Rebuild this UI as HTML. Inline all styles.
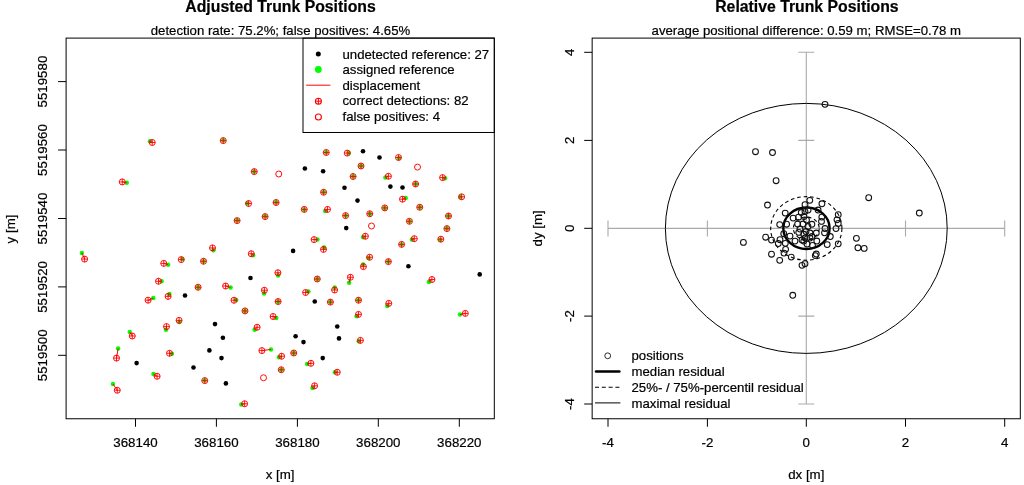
<!DOCTYPE html><html><head><meta charset="utf-8"><title>Trunk Positions</title><style>
html,body{margin:0;padding:0;background:#fff;}body{width:1024px;height:485px;overflow:hidden;}
svg{display:block;}text{font-family:'Liberation Sans', Arial, Helvetica, sans-serif;fill:#000;stroke:#000;stroke-width:0.2px;}
.t{font-size:16px;font-weight:bold;text-anchor:middle;}
.s{font-size:13.2px;text-anchor:middle;}
.a{font-size:13.3px;text-anchor:middle;}
.l{font-size:13.2px;}
</style></head><body>
<svg width="1024" height="485" viewBox="0 0 1024 485">
<rect width="1024" height="485" fill="#fff"/>
<text class="t" transform="translate(280.5 11.7) scale(0.988 1.035)">Adjusted Trunk Positions</text>
<text class="s" x="280.5" y="34.6">detection rate: 75.2%; false positives: 4.65%</text>
<path d="M135.5 418.75V426.75M216.4 418.75V426.75M297.4 418.75V426.75M378.3 418.75V426.75M459.3 418.75V426.75M66.1 81.6H58.1M66.1 150H58.1M66.1 218.5H58.1M66.1 286.9H58.1M66.1 355.3H58.1" stroke="#000" stroke-width="1" fill="none"/>
<rect x="66.1" y="38.1" width="428.2" height="380.65" stroke="#000" stroke-width="1" fill="none"/>
<text class="a" x="135.5" y="447.3">368140</text>
<text class="a" x="216.4" y="447.3">368160</text>
<text class="a" x="297.4" y="447.3">368180</text>
<text class="a" x="378.3" y="447.3">368200</text>
<text class="a" x="459.3" y="447.3">368220</text>
<text class="a" transform="translate(47.2 81.6) rotate(-90)">5519580</text>
<text class="a" transform="translate(47.2 150) rotate(-90)">5519560</text>
<text class="a" transform="translate(47.2 218.5) rotate(-90)">5519540</text>
<text class="a" transform="translate(47.2 286.9) rotate(-90)">5519520</text>
<text class="a" transform="translate(47.2 355.3) rotate(-90)">5519500</text>
<text class="a" x="280.1" y="478.5">x [m]</text>
<text class="a" transform="translate(15.4 229) rotate(-90)">y [m]</text>
<g fill="#000"><circle cx="304.9" cy="168.5" r="2.3"/><circle cx="323.1" cy="171.25" r="2.3"/><circle cx="363" cy="151.25" r="2.3"/><circle cx="379.5" cy="157.5" r="2.3"/><circle cx="344.5" cy="187.75" r="2.3"/><circle cx="390.4" cy="186.6" r="2.3"/><circle cx="402.5" cy="187.5" r="2.3"/><circle cx="357.5" cy="200.6" r="2.3"/><circle cx="346.25" cy="228.1" r="2.3"/><circle cx="250.5" cy="278" r="2.3"/><circle cx="293.1" cy="250.9" r="2.3"/><circle cx="408.4" cy="266.2" r="2.3"/><circle cx="479.7" cy="274.4" r="2.3"/><circle cx="185" cy="295.5" r="2.3"/><circle cx="314.75" cy="301.5" r="2.3"/><circle cx="215" cy="324.1" r="2.3"/><circle cx="222.9" cy="337.75" r="2.3"/><circle cx="295.6" cy="336.25" r="2.3"/><circle cx="303.5" cy="342.1" r="2.3"/><circle cx="209.4" cy="350.4" r="2.3"/><circle cx="337.25" cy="326.5" r="2.3"/><circle cx="339" cy="338.4" r="2.3"/><circle cx="136.6" cy="363.1" r="2.3"/><circle cx="193.5" cy="367.5" r="2.3"/><circle cx="221.5" cy="358.1" r="2.3"/><circle cx="225.9" cy="383.4" r="2.3"/><circle cx="322.75" cy="358.1" r="2.3"/></g><g fill="#00ff00"><circle cx="150" cy="141.25" r="2.25"/><circle cx="126.8" cy="182.8" r="2.25"/><circle cx="223.25" cy="140.6" r="2.25"/><circle cx="254.25" cy="171.6" r="2.25"/><circle cx="326.25" cy="152.5" r="2.25"/><circle cx="348.75" cy="153.1" r="2.25"/><circle cx="399" cy="158.1" r="2.25"/><circle cx="361" cy="166" r="2.25"/><circle cx="353.1" cy="176.5" r="2.25"/><circle cx="385.4" cy="177.5" r="2.25"/><circle cx="415.6" cy="184" r="2.25"/><circle cx="247.4" cy="203.25" r="2.25"/><circle cx="276.1" cy="202.5" r="2.25"/><circle cx="304.25" cy="209.4" r="2.25"/><circle cx="265.1" cy="216.6" r="2.25"/><circle cx="237.1" cy="220.6" r="2.25"/><circle cx="323.6" cy="192.25" r="2.25"/><circle cx="325.25" cy="210.9" r="2.25"/><circle cx="317.45" cy="239.6" r="2.25"/><circle cx="405.7" cy="198" r="2.25"/><circle cx="384.75" cy="207.9" r="2.25"/><circle cx="419.75" cy="207.25" r="2.25"/><circle cx="345.6" cy="215.6" r="2.25"/><circle cx="369.75" cy="213.75" r="2.25"/><circle cx="409.4" cy="221.3" r="2.25"/><circle cx="363.1" cy="237.25" r="2.25"/><circle cx="411.9" cy="239.4" r="2.25"/><circle cx="401.6" cy="244.4" r="2.25"/><circle cx="445" cy="178.3" r="2.25"/><circle cx="460.4" cy="197" r="2.25"/><circle cx="448.5" cy="216" r="2.25"/><circle cx="446.9" cy="228.6" r="2.25"/><circle cx="440.3" cy="239.7" r="2.25"/><circle cx="81.9" cy="252.9" r="2.25"/><circle cx="168.1" cy="264.75" r="2.25"/><circle cx="182.25" cy="259.1" r="2.25"/><circle cx="161.6" cy="281.25" r="2.25"/><circle cx="169.4" cy="294" r="2.25"/><circle cx="153.3" cy="298.1" r="2.25"/><circle cx="213.4" cy="250.25" r="2.25"/><circle cx="253.1" cy="255.25" r="2.25"/><circle cx="203.5" cy="261.25" r="2.25"/><circle cx="278.1" cy="275.4" r="2.25"/><circle cx="198.1" cy="287.25" r="2.25"/><circle cx="230.6" cy="287.5" r="2.25"/><circle cx="264.1" cy="293.4" r="2.25"/><circle cx="308.4" cy="291.6" r="2.25"/><circle cx="317.25" cy="279" r="2.25"/><circle cx="324.1" cy="247.5" r="2.25"/><circle cx="368.5" cy="258.1" r="2.25"/><circle cx="388.4" cy="261.6" r="2.25"/><circle cx="363.1" cy="264.4" r="2.25"/><circle cx="349.1" cy="282.75" r="2.25"/><circle cx="334.75" cy="287.5" r="2.25"/><circle cx="428.9" cy="281.9" r="2.25"/><circle cx="179.4" cy="321.9" r="2.25"/><circle cx="166" cy="329.75" r="2.25"/><circle cx="129.75" cy="332.1" r="2.25"/><circle cx="118.1" cy="348.5" r="2.25"/><circle cx="171.9" cy="353.75" r="2.25"/><circle cx="236.25" cy="300" r="2.25"/><circle cx="278.1" cy="301.5" r="2.25"/><circle cx="245" cy="310.9" r="2.25"/><circle cx="276.25" cy="317.9" r="2.25"/><circle cx="254.6" cy="329.75" r="2.25"/><circle cx="271" cy="349.4" r="2.25"/><circle cx="279" cy="357.25" r="2.25"/><circle cx="293.75" cy="353" r="2.25"/><circle cx="330.4" cy="302.1" r="2.25"/><circle cx="358.5" cy="300.25" r="2.25"/><circle cx="387.25" cy="306" r="2.25"/><circle cx="356.6" cy="316.25" r="2.25"/><circle cx="358.75" cy="341.25" r="2.25"/><circle cx="460" cy="314.6" r="2.25"/><circle cx="153.5" cy="374.1" r="2.25"/><circle cx="112.9" cy="384" r="2.25"/><circle cx="307.1" cy="364.1" r="2.25"/><circle cx="281.25" cy="369.75" r="2.25"/><circle cx="204.75" cy="380.6" r="2.25"/><circle cx="312.5" cy="387.9" r="2.25"/><circle cx="241.25" cy="404.6" r="2.25"/><circle cx="335" cy="372.25" r="2.25"/></g><path d="M150 141.25L152.25 142.5M126.8 182.8L122.25 181.9M348.75 153.1L347.25 153.1M399 158.1L398.5 157.5M385.4 177.5L388.4 176.25M247.4 203.25L248.6 203.5M325.25 210.9L327.5 209.4M317.45 239.6L314.1 239.6M405.7 198L402.5 199.2M363.1 237.25L365.4 236.25M411.9 239.4L414.3 238.7M445 178.3L442.6 177.6M460.4 197L461.6 196.8M440.3 239.7L440.8 239.2M81.9 252.9L84.6 259.1M168.1 264.75L163.75 263.4M182.25 259.1L181.25 259.6M161.6 281.25L158.5 281.25M169.4 294L168.1 296.4M153.3 298.1L148.1 300.2M213.4 250.25L212.5 247.9M253.1 255.25L251.25 253.75M278.1 275.4L277.9 272.75M230.6 287.5L225.6 286M264.1 293.4L264.4 290.25M308.4 291.6L305.6 292.5M324.1 247.5L323.5 249.4M368.5 258.1L369.6 257.25M363.1 264.4L363.4 266.6M349.1 282.75L350.4 277.25M334.75 287.5L334.6 290M428.9 281.9L431.9 279.5M179.4 321.9L179.1 320.4M166 329.75L166.5 326.6M129.75 332.1L132.25 336M118.1 348.5L116.5 358.1M171.9 353.75L169.5 353.3M236.25 300L234 300.25M276.25 317.9L273.1 316.5M254.6 329.75L257.1 327.25M271 349.4L261.9 350.6M279 357.25L281.6 356.25M387.25 306L388.75 303.4M356.6 316.25L358.5 314.4M358.75 341.25L360.4 340.4M460 314.6L465.3 313.4M153.5 374.1L157.1 376.25M112.9 384L117.25 390.25M307.1 364.1L310.9 363.3M312.5 387.9L314.6 385.8M241.25 404.6L244.6 403.75M335 372.25L337.25 372.25" stroke="#ff0000" stroke-width="1" fill="none"/><path d="M149.25 142.5H155.25M152.25 139.5V145.5M119.25 181.9H125.25M122.25 178.9V184.9M220.25 140.6H226.25M223.25 137.6V143.6M251.25 171.6H257.25M254.25 168.6V174.6M323.25 152.5H329.25M326.25 149.5V155.5M344.25 153.1H350.25M347.25 150.1V156.1M395.5 157.5H401.5M398.5 154.5V160.5M358 166H364M361 163V169M350.1 176.5H356.1M353.1 173.5V179.5M385.4 176.25H391.4M388.4 173.25V179.25M412.6 184H418.6M415.6 181V187M245.6 203.5H251.6M248.6 200.5V206.5M273.1 202.5H279.1M276.1 199.5V205.5M301.25 209.4H307.25M304.25 206.4V212.4M262.1 216.6H268.1M265.1 213.6V219.6M234.1 220.6H240.1M237.1 217.6V223.6M320.6 192.25H326.6M323.6 189.25V195.25M324.5 209.4H330.5M327.5 206.4V212.4M311.1 239.6H317.1M314.1 236.6V242.6M399.5 199.2H405.5M402.5 196.2V202.2M381.75 207.9H387.75M384.75 204.9V210.9M416.75 207.25H422.75M419.75 204.25V210.25M342.6 215.6H348.6M345.6 212.6V218.6M366.75 213.75H372.75M369.75 210.75V216.75M406.4 221.3H412.4M409.4 218.3V224.3M362.4 236.25H368.4M365.4 233.25V239.25M411.3 238.7H417.3M414.3 235.7V241.7M398.6 244.4H404.6M401.6 241.4V247.4M439.6 177.6H445.6M442.6 174.6V180.6M458.6 196.8H464.6M461.6 193.8V199.8M445.5 216H451.5M448.5 213V219M443.9 228.6H449.9M446.9 225.6V231.6M437.8 239.2H443.8M440.8 236.2V242.2M81.6 259.1H87.6M84.6 256.1V262.1M160.75 263.4H166.75M163.75 260.4V266.4M178.25 259.6H184.25M181.25 256.6V262.6M155.5 281.25H161.5M158.5 278.25V284.25M165.1 296.4H171.1M168.1 293.4V299.4M145.1 300.2H151.1M148.1 297.2V303.2M209.5 247.9H215.5M212.5 244.9V250.9M248.25 253.75H254.25M251.25 250.75V256.75M200.5 261.25H206.5M203.5 258.25V264.25M274.9 272.75H280.9M277.9 269.75V275.75M195.1 287.25H201.1M198.1 284.25V290.25M222.6 286H228.6M225.6 283V289M261.4 290.25H267.4M264.4 287.25V293.25M302.6 292.5H308.6M305.6 289.5V295.5M314.25 279H320.25M317.25 276V282M320.5 249.4H326.5M323.5 246.4V252.4M366.6 257.25H372.6M369.6 254.25V260.25M385.4 261.6H391.4M388.4 258.6V264.6M360.4 266.6H366.4M363.4 263.6V269.6M347.4 277.25H353.4M350.4 274.25V280.25M331.6 290H337.6M334.6 287V293M428.9 279.5H434.9M431.9 276.5V282.5M176.1 320.4H182.1M179.1 317.4V323.4M163.5 326.6H169.5M166.5 323.6V329.6M129.25 336H135.25M132.25 333V339M113.5 358.1H119.5M116.5 355.1V361.1M166.5 353.3H172.5M169.5 350.3V356.3M231 300.25H237M234 297.25V303.25M275.1 301.5H281.1M278.1 298.5V304.5M242 310.9H248M245 307.9V313.9M270.1 316.5H276.1M273.1 313.5V319.5M254.1 327.25H260.1M257.1 324.25V330.25M258.9 350.6H264.9M261.9 347.6V353.6M278.6 356.25H284.6M281.6 353.25V359.25M290.75 353H296.75M293.75 350V356M327.4 302.1H333.4M330.4 299.1V305.1M355.5 300.25H361.5M358.5 297.25V303.25M385.75 303.4H391.75M388.75 300.4V306.4M355.5 314.4H361.5M358.5 311.4V317.4M357.4 340.4H363.4M360.4 337.4V343.4M462.3 313.4H468.3M465.3 310.4V316.4M154.1 376.25H160.1M157.1 373.25V379.25M114.25 390.25H120.25M117.25 387.25V393.25M307.9 363.3H313.9M310.9 360.3V366.3M278.25 369.75H284.25M281.25 366.75V372.75M201.75 380.6H207.75M204.75 377.6V383.6M311.6 385.8H317.6M314.6 382.8V388.8M241.6 403.75H247.6M244.6 400.75V406.75M334.25 372.25H340.25M337.25 369.25V375.25" stroke="#ff0000" stroke-width="0.9" fill="none"/><g stroke="#ff0000" stroke-width="0.95" fill="none"><circle cx="152.25" cy="142.5" r="3"/><circle cx="122.25" cy="181.9" r="3"/><circle cx="223.25" cy="140.6" r="3"/><circle cx="254.25" cy="171.6" r="3"/><circle cx="326.25" cy="152.5" r="3"/><circle cx="347.25" cy="153.1" r="3"/><circle cx="398.5" cy="157.5" r="3"/><circle cx="361" cy="166" r="3"/><circle cx="353.1" cy="176.5" r="3"/><circle cx="388.4" cy="176.25" r="3"/><circle cx="415.6" cy="184" r="3"/><circle cx="248.6" cy="203.5" r="3"/><circle cx="276.1" cy="202.5" r="3"/><circle cx="304.25" cy="209.4" r="3"/><circle cx="265.1" cy="216.6" r="3"/><circle cx="237.1" cy="220.6" r="3"/><circle cx="323.6" cy="192.25" r="3"/><circle cx="327.5" cy="209.4" r="3"/><circle cx="314.1" cy="239.6" r="3"/><circle cx="402.5" cy="199.2" r="3"/><circle cx="384.75" cy="207.9" r="3"/><circle cx="419.75" cy="207.25" r="3"/><circle cx="345.6" cy="215.6" r="3"/><circle cx="369.75" cy="213.75" r="3"/><circle cx="409.4" cy="221.3" r="3"/><circle cx="365.4" cy="236.25" r="3"/><circle cx="414.3" cy="238.7" r="3"/><circle cx="401.6" cy="244.4" r="3"/><circle cx="442.6" cy="177.6" r="3"/><circle cx="461.6" cy="196.8" r="3"/><circle cx="448.5" cy="216" r="3"/><circle cx="446.9" cy="228.6" r="3"/><circle cx="440.8" cy="239.2" r="3"/><circle cx="84.6" cy="259.1" r="3"/><circle cx="163.75" cy="263.4" r="3"/><circle cx="181.25" cy="259.6" r="3"/><circle cx="158.5" cy="281.25" r="3"/><circle cx="168.1" cy="296.4" r="3"/><circle cx="148.1" cy="300.2" r="3"/><circle cx="212.5" cy="247.9" r="3"/><circle cx="251.25" cy="253.75" r="3"/><circle cx="203.5" cy="261.25" r="3"/><circle cx="277.9" cy="272.75" r="3"/><circle cx="198.1" cy="287.25" r="3"/><circle cx="225.6" cy="286" r="3"/><circle cx="264.4" cy="290.25" r="3"/><circle cx="305.6" cy="292.5" r="3"/><circle cx="317.25" cy="279" r="3"/><circle cx="323.5" cy="249.4" r="3"/><circle cx="369.6" cy="257.25" r="3"/><circle cx="388.4" cy="261.6" r="3"/><circle cx="363.4" cy="266.6" r="3"/><circle cx="350.4" cy="277.25" r="3"/><circle cx="334.6" cy="290" r="3"/><circle cx="431.9" cy="279.5" r="3"/><circle cx="179.1" cy="320.4" r="3"/><circle cx="166.5" cy="326.6" r="3"/><circle cx="132.25" cy="336" r="3"/><circle cx="116.5" cy="358.1" r="3"/><circle cx="169.5" cy="353.3" r="3"/><circle cx="234" cy="300.25" r="3"/><circle cx="278.1" cy="301.5" r="3"/><circle cx="245" cy="310.9" r="3"/><circle cx="273.1" cy="316.5" r="3"/><circle cx="257.1" cy="327.25" r="3"/><circle cx="261.9" cy="350.6" r="3"/><circle cx="281.6" cy="356.25" r="3"/><circle cx="293.75" cy="353" r="3"/><circle cx="330.4" cy="302.1" r="3"/><circle cx="358.5" cy="300.25" r="3"/><circle cx="388.75" cy="303.4" r="3"/><circle cx="358.5" cy="314.4" r="3"/><circle cx="360.4" cy="340.4" r="3"/><circle cx="465.3" cy="313.4" r="3"/><circle cx="157.1" cy="376.25" r="3"/><circle cx="117.25" cy="390.25" r="3"/><circle cx="310.9" cy="363.3" r="3"/><circle cx="281.25" cy="369.75" r="3"/><circle cx="204.75" cy="380.6" r="3"/><circle cx="314.6" cy="385.8" r="3"/><circle cx="244.6" cy="403.75" r="3"/><circle cx="337.25" cy="372.25" r="3"/><circle cx="278.75" cy="174" r="3"/><circle cx="417.5" cy="167.1" r="3"/><circle cx="371.5" cy="226" r="3"/><circle cx="263.5" cy="377.75" r="3"/></g>
<rect x="303" y="38.1" width="191.3" height="94.4" stroke="#000" stroke-width="1" fill="none"/>
<circle cx="318.3" cy="53.9" r="2.5" fill="#000"/>
<circle cx="318.3" cy="69.5" r="3.4" fill="#00ff00"/>
<path d="M306.2 85.2H330.4" stroke="#ff0000" stroke-width="1"/>
<circle cx="318.4" cy="101.2" r="3" stroke="#ff0000" stroke-width="1.1" fill="none"/>
<path d="M315.4 101.2H321.4M318.4 98.2V104.2" stroke="#ff0000" stroke-width="1"/>
<circle cx="318.4" cy="117" r="3" stroke="#ff0000" stroke-width="1.1" fill="none"/>
<text class="l" x="342.5" y="58.6">undetected reference: 27</text>
<text class="l" x="342.5" y="74.2">assigned reference</text>
<text class="l" x="342.5" y="89.8">displacement</text>
<text class="l" x="342.5" y="105.4">correct detections: 82</text>
<text class="l" x="342.5" y="121">false positives: 4</text>
<text class="t" transform="translate(806.9 11.7) scale(0.988 1.035)">Relative Trunk Positions</text>
<text class="s" x="806.3" y="34.6">average positional difference: 0.59 m; RMSE=0.78 m</text>
<path d="M608 418.75V426.75M707.4 418.75V426.75M806.3 418.75V426.75M905.5 418.75V426.75M1004.7 418.75V426.75M592.15 52.3H584.15M592.15 140.4H584.15M592.15 228.3H584.15M592.15 316.1H584.15M592.15 404H584.15" stroke="#000" stroke-width="1" fill="none"/>
<rect x="592.15" y="38.1" width="428.15" height="380.65" stroke="#000" stroke-width="1" fill="none"/>
<text class="a" x="608" y="447.3">-4</text>
<text class="a" x="707.4" y="447.3">-2</text>
<text class="a" x="806.3" y="447.3">0</text>
<text class="a" x="905.5" y="447.3">2</text>
<text class="a" x="1004.7" y="447.3">4</text>
<text class="a" transform="translate(573.9 52.3) rotate(-90)">4</text>
<text class="a" transform="translate(573.9 140.4) rotate(-90)">2</text>
<text class="a" transform="translate(573.9 228.3) rotate(-90)">0</text>
<text class="a" transform="translate(573.9 316.1) rotate(-90)">-2</text>
<text class="a" transform="translate(573.9 404) rotate(-90)">-4</text>
<text class="a" x="806.3" y="478.5">dx [m]</text>
<text class="a" transform="translate(541.5 228.4) rotate(-90)">dy [m]</text>
<path d="M608 228.4H1004.7M806.3 52.3V404M608 220.4V236.4M707.4 220.4V236.4M905.5 220.4V236.4M1004.7 220.4V236.4M798.3 52.3H814.3M798.3 140.4H814.3M798.3 316.1H814.3M798.3 404H814.3" stroke="#aaaaaa" stroke-width="1.1" fill="none"/>
<ellipse cx="806.3" cy="228.4" rx="140.9" ry="125" fill="none" stroke="#000" stroke-width="1"/>
<ellipse cx="806.3" cy="228.4" rx="35.6" ry="31.8" fill="none" stroke="#000" stroke-width="1.1" stroke-dasharray="3.6 2.9"/>
<ellipse cx="806.3" cy="228.4" rx="12.9" ry="11.4" fill="none" stroke="#000" stroke-width="1.1" stroke-dasharray="3.6 2.9"/>
<ellipse cx="806.45" cy="228.3" rx="23.15" ry="20.75" fill="none" stroke="#000" stroke-width="2.4"/>
<g stroke="#111" stroke-width="1.05" fill="none"><circle cx="825" cy="104.3" r="2.9"/><circle cx="755.5" cy="151.7" r="2.9"/><circle cx="772.5" cy="152.5" r="2.9"/><circle cx="776.1" cy="180.7" r="2.9"/><circle cx="767.5" cy="205" r="2.9"/><circle cx="868.7" cy="197.7" r="2.9"/><circle cx="919.3" cy="213" r="2.9"/><circle cx="743.4" cy="242.4" r="2.9"/><circle cx="792.75" cy="295.25" r="2.9"/><circle cx="856.4" cy="238.3" r="2.9"/><circle cx="857.9" cy="247.75" r="2.9"/><circle cx="864.2" cy="248.4" r="2.9"/><circle cx="809.8" cy="200.3" r="2.9"/><circle cx="821.9" cy="203.75" r="2.9"/><circle cx="805" cy="204.7" r="2.9"/><circle cx="818.1" cy="210" r="2.9"/><circle cx="785.2" cy="213.1" r="2.9"/><circle cx="793.1" cy="218.1" r="2.9"/><circle cx="798.6" cy="217.2" r="2.9"/><circle cx="801.25" cy="212.5" r="2.9"/><circle cx="805" cy="211.6" r="2.9"/><circle cx="808.1" cy="210" r="2.9"/><circle cx="821.8" cy="217.1" r="2.9"/><circle cx="821.5" cy="221.4" r="2.9"/><circle cx="779.7" cy="224.6" r="2.9"/><circle cx="786.6" cy="224.2" r="2.9"/><circle cx="797.6" cy="224.1" r="2.9"/><circle cx="838.25" cy="214.7" r="2.9"/><circle cx="837" cy="219.8" r="2.9"/><circle cx="838.25" cy="223.4" r="2.9"/><circle cx="811.9" cy="224.25" r="2.9"/><circle cx="825" cy="228.5" r="2.9"/><circle cx="824.5" cy="232.8" r="2.9"/><circle cx="830.3" cy="236.5" r="2.9"/><circle cx="836" cy="228.6" r="2.9"/><circle cx="798.75" cy="232.4" r="2.9"/><circle cx="803.75" cy="234.25" r="2.9"/><circle cx="810" cy="233" r="2.9"/><circle cx="816.3" cy="233" r="2.9"/><circle cx="805" cy="238" r="2.9"/><circle cx="810" cy="238" r="2.9"/><circle cx="790" cy="236.1" r="2.9"/><circle cx="783.75" cy="233.7" r="2.9"/><circle cx="795" cy="241.1" r="2.9"/><circle cx="780" cy="239.7" r="2.9"/><circle cx="778.3" cy="243.5" r="2.9"/><circle cx="785.3" cy="243.3" r="2.9"/><circle cx="771.5" cy="240.1" r="2.9"/><circle cx="816.8" cy="241" r="2.9"/><circle cx="827.2" cy="244.6" r="2.9"/><circle cx="812.5" cy="245.4" r="2.9"/><circle cx="803.75" cy="241.1" r="2.9"/><circle cx="838.25" cy="243.8" r="2.9"/><circle cx="765.6" cy="237.2" r="2.9"/><circle cx="785.6" cy="249.3" r="2.9"/><circle cx="784" cy="253.1" r="2.9"/><circle cx="771.5" cy="254.2" r="2.9"/><circle cx="791.25" cy="257.1" r="2.9"/><circle cx="779.7" cy="260.3" r="2.9"/><circle cx="802" cy="265.3" r="2.9"/><circle cx="805" cy="263.7" r="2.9"/><circle cx="815.3" cy="255.6" r="2.9"/><circle cx="816.25" cy="254" r="2.9"/><circle cx="804" cy="216.5" r="2.9"/><circle cx="806.5" cy="220" r="2.9"/><circle cx="803" cy="224" r="2.9"/><circle cx="808" cy="226.5" r="2.9"/><circle cx="802" cy="240" r="2.9"/><circle cx="807" cy="244" r="2.9"/><circle cx="800" cy="229" r="2.9"/><circle cx="806" cy="231.5" r="2.9"/><circle cx="812" cy="236.5" r="2.9"/></g>
<circle cx="607.7" cy="355.8" r="2.9" stroke="#222" stroke-width="0.95" fill="none"/>
<path d="M596 371.5H619.4" stroke="#000" stroke-width="2.4" stroke-linecap="round"/>
<path d="M595 387.2H620.4" stroke="#000" stroke-width="1.1" stroke-dasharray="4 2.8"/>
<path d="M595 402.9H620.4" stroke="#000" stroke-width="1"/>
<text class="l" x="631.5" y="360.1">positions</text>
<text class="l" x="631.5" y="375.95">median residual</text>
<text class="l" x="631.5" y="391.8">25%- / 75%-percentil residual</text>
<text class="l" x="631.5" y="407.65">maximal residual</text>
</svg></body></html>
